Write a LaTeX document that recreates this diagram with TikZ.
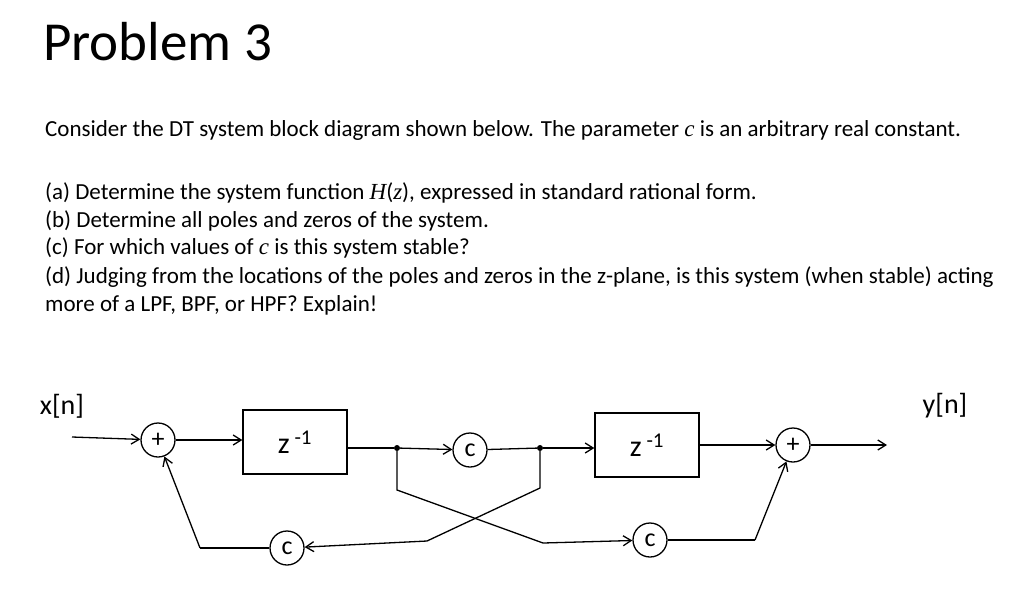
\documentclass[tikz,border=0pt]{standalone}
\usepackage{fontspec}
\setmainfont{Carlito}
\newfontfamily\myvarfont{Liberation Serif}
\newcommand{\mv}[1]{{\myvarfont\itshape #1}}
\usetikzlibrary{arrows.meta}
\begin{document}
\begin{tikzpicture}[x=1pt,y=-1pt,
  txt/.style={anchor=west,inner sep=0pt,font=\fontsize{23}{26}\selectfont},
  op/.style={circle,draw,line width=1.3pt,minimum size=34pt,inner sep=0pt,font=\fontsize{26}{26}\selectfont},
  blk/.style={draw,line width=1.3pt,minimum width=104pt,minimum height=64pt,font=\fontsize{30}{30}\selectfont},
  w/.style={line width=1.3pt},
  a/.style={w,-{Straight Barb[length=8pt,width=10pt]}},
  dot/.style={circle,fill,inner sep=0pt,minimum size=6pt}]
\useasboundingbox (0,0) rectangle (1024,595);
\node[anchor=west,inner sep=0pt,font=\fontsize{55}{55}\selectfont] (title) at (43,42) {Problem 3};
\node[txt] (t1) at (45,130) {Consider the DT system block diagram shown below. The parameter \mv{c} is an arbitrary real constant.};
\node[txt] (t2) at (45,193) {(a) Determine the system function \mv{H}(\mv{z}), expressed in standard rational form.};
\node[txt] (t3) at (45,221) {(b) Determine all poles and zeros of the system.};
\node[txt] (t4) at (45,248) {(c) For which values of \mv{c} is this system stable?};
\node[txt] (t5) at (45,277) {(d) Judging from the locations of the poles and zeros in the z-plane, is this system (when stable) acting};
\node[txt] (t6) at (45,305) {more of a LPF, BPF, or HPF? Explain!};

\node[font=\fontsize{28}{28}\selectfont] (xl) at (62,406) {x[n]};
\node[font=\fontsize{28}{28}\selectfont] (yl) at (945,406) {y[n]};
\coordinate (in) at (72,437);
\node[op] (s1) at (158,440) {+};
\node[blk] (b1) at (295,442) {z\textsuperscript{ -1}};
\node[dot] (d1) at (397,448) {};
\node[op] (c1) at (470,450) {c};
\node[dot] (d2) at (540,448) {};
\node[blk] (b2) at (647,445) {z\textsuperscript{ -1}};
\node[op] (s2) at (793,445) {+};
\coordinate (out) at (887,445);
\node[op] (c3) at (650,540) {c};
\node[op] (c2) at (287,548) {c};
\coordinate (p1) at (397,490);
\coordinate (p2) at (543,543);
\coordinate (p3) at (755,540);
\coordinate (q1) at (540,488);
\coordinate (q2) at (427,541);
\coordinate (q3) at (200,548);

\draw[a] (in) -- (s1);
\draw[a] (s1) -- (b1.west|-s1);
\draw[w] (b1.east|-d1) -- (d1);
\draw[a] (d1) -- (c1);
\draw[w] (c1) -- (d2);
\draw[a] (d2) -- (b2.west|-d2);
\draw[a] (b2.east|-s2) -- (s2);
\draw[a] (s2) -- (out);
\draw[w] (d1) -- (p1) -- (p2);
\draw[a] (p2) -- (c3);
\draw[w] (c3) -- (p3);
\draw[a] (p3) -- (s2);
\draw[w] (d2) -- (q1) -- (q2);
\draw[a] (q2) -- (c2);
\draw[w] (c2) -- (q3);
\draw[a] (q3) -- (s1);
\end{tikzpicture}
\end{document}
